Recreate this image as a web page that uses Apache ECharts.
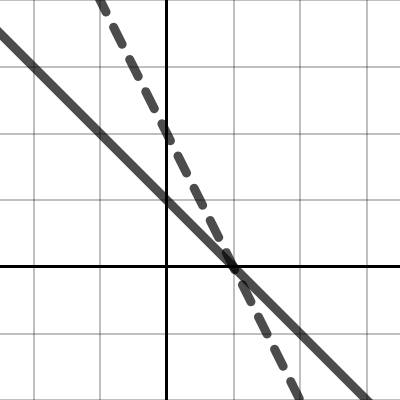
<!DOCTYPE html>
<html>
<head>
<meta charset="utf-8">
<script src="https://cdn.jsdelivr.net/npm/echarts@6/dist/echarts.min.js"></script>
<style>
  html, body { margin: 0; padding: 0; background: #fff; }
  #chart { width: 400px; height: 400px; }
</style>
</head>
<body>
<div id="chart"></div>
<script>
// axis ranges (x runs -2.5..3.5 in view, grid padded by half a unit each side)
const xRange = [-3, 4];
const yRange = [-2, 4];

// solid line: y = -x + 1
const solidX = [-3, 4];
const solidY = [4, -3];

// dashed line: y = -2x + 2
const dashedX = [-1.5, 2.5];
const dashedY = [5, -3];

const zip = (xs, ys) => xs.map((x, i) => [x, ys[i]]);

const chart = echarts.init(document.getElementById('chart'));
chart.setOption({
  animation: false,
  grid: {
    left: -33.333, width: 466.667, top: 0, bottom: 0,
    containLabel: false, outerBoundsMode: 'none',
  },
  xAxis: {
    type: 'value', min: xRange[0], max: xRange[1], interval: 1,
    axisLine: { onZero: true, lineStyle: { color: '#000', width: 3 } },
    axisTick: { show: false }, axisLabel: { show: false },
    splitLine: { lineStyle: { color: 'rgba(0,0,0,0.25)', width: 2 } },
  },
  yAxis: {
    type: 'value', min: yRange[0], max: yRange[1], interval: 1,
    axisLine: { show: true, onZero: true, lineStyle: { color: '#000', width: 3 } },
    axisTick: { show: false }, axisLabel: { show: false },
    splitLine: { lineStyle: { color: 'rgba(0,0,0,0.25)', width: 2 } },
  },
  series: [
    {
      type: 'line', data: zip(solidX, solidY), symbol: 'none',
      lineStyle: { color: 'rgba(0,0,0,0.7)', width: 9 },
    },
    {
      type: 'line', data: zip(dashedX, dashedY), symbol: 'none',
      lineStyle: {
        color: 'rgba(0,0,0,0.7)', width: 9,
        type: [19, 17], dashOffset: 3, cap: 'round',
      },
    },
  ],
});
</script>
</body>
</html>
